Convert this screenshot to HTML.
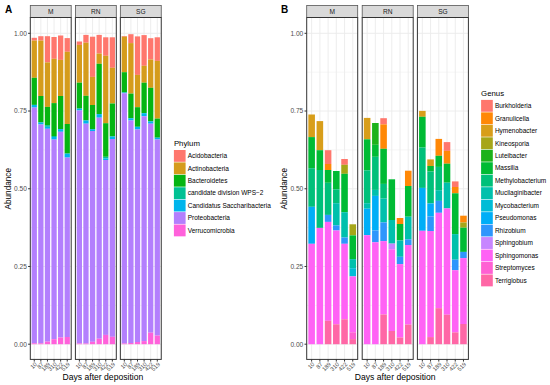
<!DOCTYPE html>
<html><head><meta charset="utf-8"><title>Abundance</title>
<style>
html,body{margin:0;padding:0;background:#FFFFFF;}
body{width:550px;height:385px;overflow:hidden;}
svg{display:block;font-family:"Liberation Sans",sans-serif;}
</style></head><body>
<svg width="550" height="385" viewBox="0 0 550 385">
<rect x="0" y="0" width="550" height="385" fill="#FFFFFF"/>
<rect x="30.30" y="17.50" width="40.90" height="341.90" fill="#FFFFFF"/>
<line x1="30.30" y1="305.34" x2="71.20" y2="305.34" stroke="#EBEBEB" stroke-width="0.5"/>
<line x1="30.30" y1="227.61" x2="71.20" y2="227.61" stroke="#EBEBEB" stroke-width="0.5"/>
<line x1="30.30" y1="149.89" x2="71.20" y2="149.89" stroke="#EBEBEB" stroke-width="0.5"/>
<line x1="30.30" y1="72.16" x2="71.20" y2="72.16" stroke="#EBEBEB" stroke-width="0.5"/>
<line x1="30.30" y1="344.20" x2="71.20" y2="344.20" stroke="#EBEBEB" stroke-width="0.9"/>
<line x1="30.30" y1="266.48" x2="71.20" y2="266.48" stroke="#EBEBEB" stroke-width="0.9"/>
<line x1="30.30" y1="188.75" x2="71.20" y2="188.75" stroke="#EBEBEB" stroke-width="0.9"/>
<line x1="30.30" y1="111.03" x2="71.20" y2="111.03" stroke="#EBEBEB" stroke-width="0.9"/>
<line x1="30.30" y1="33.30" x2="71.20" y2="33.30" stroke="#EBEBEB" stroke-width="0.9"/>
<line x1="34.26" y1="17.50" x2="34.26" y2="359.40" stroke="#EBEBEB" stroke-width="0.9"/>
<line x1="40.85" y1="17.50" x2="40.85" y2="359.40" stroke="#EBEBEB" stroke-width="0.9"/>
<line x1="47.45" y1="17.50" x2="47.45" y2="359.40" stroke="#EBEBEB" stroke-width="0.9"/>
<line x1="54.05" y1="17.50" x2="54.05" y2="359.40" stroke="#EBEBEB" stroke-width="0.9"/>
<line x1="60.65" y1="17.50" x2="60.65" y2="359.40" stroke="#EBEBEB" stroke-width="0.9"/>
<line x1="67.24" y1="17.50" x2="67.24" y2="359.40" stroke="#EBEBEB" stroke-width="0.9"/>
<rect x="31.62" y="37.80" width="5.28" height="2.80" fill="#FF776D"/>
<rect x="31.62" y="40.60" width="5.28" height="37.20" fill="#D59C1C"/>
<rect x="31.62" y="77.80" width="5.28" height="27.10" fill="#05B512"/>
<rect x="31.62" y="104.90" width="5.28" height="2.70" fill="#00B5EC"/>
<rect x="31.62" y="107.60" width="5.28" height="235.70" fill="#B37FFD"/>
<rect x="31.62" y="343.30" width="5.28" height="0.90" fill="#FF61DB"/>
<rect x="38.22" y="36.20" width="5.28" height="4.40" fill="#FF776D"/>
<rect x="38.22" y="40.60" width="5.28" height="55.40" fill="#D59C1C"/>
<rect x="38.22" y="96.00" width="5.28" height="26.40" fill="#05B512"/>
<rect x="38.22" y="122.40" width="5.28" height="2.10" fill="#00B5EC"/>
<rect x="38.22" y="124.50" width="5.28" height="218.80" fill="#B37FFD"/>
<rect x="38.22" y="343.30" width="5.28" height="0.90" fill="#FF61DB"/>
<rect x="44.81" y="36.20" width="5.28" height="26.20" fill="#FF776D"/>
<rect x="44.81" y="62.40" width="5.28" height="44.50" fill="#D59C1C"/>
<rect x="44.81" y="106.90" width="5.28" height="18.20" fill="#05B512"/>
<rect x="44.81" y="125.10" width="5.28" height="1.70" fill="#00C193"/>
<rect x="44.81" y="126.80" width="5.28" height="2.00" fill="#00B5EC"/>
<rect x="44.81" y="128.80" width="5.28" height="212.80" fill="#B37FFD"/>
<rect x="44.81" y="341.60" width="5.28" height="2.60" fill="#FF61DB"/>
<rect x="51.41" y="37.00" width="5.28" height="21.80" fill="#FF776D"/>
<rect x="51.41" y="58.80" width="5.28" height="44.30" fill="#D59C1C"/>
<rect x="51.41" y="103.10" width="5.28" height="32.90" fill="#05B512"/>
<rect x="51.41" y="136.00" width="5.28" height="1.00" fill="#00C193"/>
<rect x="51.41" y="137.00" width="5.28" height="2.60" fill="#00B5EC"/>
<rect x="51.41" y="139.60" width="5.28" height="199.60" fill="#B37FFD"/>
<rect x="51.41" y="339.20" width="5.28" height="5.00" fill="#FF61DB"/>
<rect x="58.01" y="35.50" width="5.28" height="24.40" fill="#FF776D"/>
<rect x="58.01" y="59.90" width="5.28" height="36.10" fill="#D59C1C"/>
<rect x="58.01" y="96.00" width="5.28" height="33.10" fill="#05B512"/>
<rect x="58.01" y="129.10" width="5.28" height="2.70" fill="#00B5EC"/>
<rect x="58.01" y="131.80" width="5.28" height="205.70" fill="#B37FFD"/>
<rect x="58.01" y="337.50" width="5.28" height="6.70" fill="#FF61DB"/>
<rect x="64.60" y="38.10" width="5.28" height="13.70" fill="#FF776D"/>
<rect x="64.60" y="51.80" width="5.28" height="72.20" fill="#D59C1C"/>
<rect x="64.60" y="124.00" width="5.28" height="29.60" fill="#05B512"/>
<rect x="64.60" y="153.60" width="5.28" height="4.00" fill="#00B5EC"/>
<rect x="64.60" y="157.60" width="5.28" height="179.40" fill="#B37FFD"/>
<rect x="64.60" y="337.00" width="5.28" height="7.20" fill="#FF61DB"/>
<rect x="30.30" y="17.50" width="40.90" height="341.90" fill="none" stroke="#333333" stroke-width="1"/>
<rect x="30.30" y="5.50" width="40.90" height="12.00" fill="#D9D9D9" stroke="#555555" stroke-width="0.8"/>
<line x1="30.30" y1="17.50" x2="71.20" y2="17.50" stroke="#333333" stroke-width="1.2"/>
<text x="50.75" y="14.20" font-size="6.6" fill="#1A1A1A" text-anchor="middle">M</text>
<line x1="34.26" y1="359.40" x2="34.26" y2="361.60" stroke="#333333" stroke-width="1"/>
<text transform="translate(34.56,361.90) rotate(-45)" font-size="5.8" fill="#4D4D4D" text-anchor="end" dominant-baseline="hanging">10</text>
<line x1="40.85" y1="359.40" x2="40.85" y2="361.60" stroke="#333333" stroke-width="1"/>
<text transform="translate(41.15,361.90) rotate(-45)" font-size="5.8" fill="#4D4D4D" text-anchor="end" dominant-baseline="hanging">87</text>
<line x1="47.45" y1="359.40" x2="47.45" y2="361.60" stroke="#333333" stroke-width="1"/>
<text transform="translate(47.75,361.90) rotate(-45)" font-size="5.8" fill="#4D4D4D" text-anchor="end" dominant-baseline="hanging">189</text>
<line x1="54.05" y1="359.40" x2="54.05" y2="361.60" stroke="#333333" stroke-width="1"/>
<text transform="translate(54.35,361.90) rotate(-45)" font-size="5.8" fill="#4D4D4D" text-anchor="end" dominant-baseline="hanging">310</text>
<line x1="60.65" y1="359.40" x2="60.65" y2="361.60" stroke="#333333" stroke-width="1"/>
<text transform="translate(60.95,361.90) rotate(-45)" font-size="5.8" fill="#4D4D4D" text-anchor="end" dominant-baseline="hanging">422</text>
<line x1="67.24" y1="359.40" x2="67.24" y2="361.60" stroke="#333333" stroke-width="1"/>
<text transform="translate(67.54,361.90) rotate(-45)" font-size="5.8" fill="#4D4D4D" text-anchor="end" dominant-baseline="hanging">519</text>
<rect x="75.40" y="17.50" width="40.90" height="341.90" fill="#FFFFFF"/>
<line x1="75.40" y1="305.34" x2="116.30" y2="305.34" stroke="#EBEBEB" stroke-width="0.5"/>
<line x1="75.40" y1="227.61" x2="116.30" y2="227.61" stroke="#EBEBEB" stroke-width="0.5"/>
<line x1="75.40" y1="149.89" x2="116.30" y2="149.89" stroke="#EBEBEB" stroke-width="0.5"/>
<line x1="75.40" y1="72.16" x2="116.30" y2="72.16" stroke="#EBEBEB" stroke-width="0.5"/>
<line x1="75.40" y1="344.20" x2="116.30" y2="344.20" stroke="#EBEBEB" stroke-width="0.9"/>
<line x1="75.40" y1="266.48" x2="116.30" y2="266.48" stroke="#EBEBEB" stroke-width="0.9"/>
<line x1="75.40" y1="188.75" x2="116.30" y2="188.75" stroke="#EBEBEB" stroke-width="0.9"/>
<line x1="75.40" y1="111.03" x2="116.30" y2="111.03" stroke="#EBEBEB" stroke-width="0.9"/>
<line x1="75.40" y1="33.30" x2="116.30" y2="33.30" stroke="#EBEBEB" stroke-width="0.9"/>
<line x1="79.36" y1="17.50" x2="79.36" y2="359.40" stroke="#EBEBEB" stroke-width="0.9"/>
<line x1="85.95" y1="17.50" x2="85.95" y2="359.40" stroke="#EBEBEB" stroke-width="0.9"/>
<line x1="92.55" y1="17.50" x2="92.55" y2="359.40" stroke="#EBEBEB" stroke-width="0.9"/>
<line x1="99.15" y1="17.50" x2="99.15" y2="359.40" stroke="#EBEBEB" stroke-width="0.9"/>
<line x1="105.75" y1="17.50" x2="105.75" y2="359.40" stroke="#EBEBEB" stroke-width="0.9"/>
<line x1="112.34" y1="17.50" x2="112.34" y2="359.40" stroke="#EBEBEB" stroke-width="0.9"/>
<rect x="76.72" y="41.50" width="5.28" height="3.40" fill="#FF776D"/>
<rect x="76.72" y="44.90" width="5.28" height="37.80" fill="#D59C1C"/>
<rect x="76.72" y="82.70" width="5.28" height="25.90" fill="#05B512"/>
<rect x="76.72" y="108.60" width="5.28" height="1.90" fill="#00B5EC"/>
<rect x="76.72" y="110.50" width="5.28" height="233.00" fill="#B37FFD"/>
<rect x="76.72" y="343.50" width="5.28" height="0.70" fill="#FF61DB"/>
<rect x="83.32" y="34.90" width="5.28" height="7.80" fill="#FF776D"/>
<rect x="83.32" y="42.70" width="5.28" height="53.10" fill="#D59C1C"/>
<rect x="83.32" y="95.80" width="5.28" height="24.70" fill="#05B512"/>
<rect x="83.32" y="120.50" width="5.28" height="3.20" fill="#00B5EC"/>
<rect x="83.32" y="123.70" width="5.28" height="219.80" fill="#B37FFD"/>
<rect x="83.32" y="343.50" width="5.28" height="0.70" fill="#FF61DB"/>
<rect x="89.91" y="36.70" width="5.28" height="40.20" fill="#FF776D"/>
<rect x="89.91" y="76.90" width="5.28" height="28.10" fill="#D59C1C"/>
<rect x="89.91" y="105.00" width="5.28" height="24.20" fill="#05B512"/>
<rect x="89.91" y="129.20" width="5.28" height="1.80" fill="#00B5EC"/>
<rect x="89.91" y="131.00" width="5.28" height="210.80" fill="#B37FFD"/>
<rect x="89.91" y="341.80" width="5.28" height="2.40" fill="#FF61DB"/>
<rect x="96.51" y="34.90" width="5.28" height="18.70" fill="#FF776D"/>
<rect x="96.51" y="53.60" width="5.28" height="10.20" fill="#D59C1C"/>
<rect x="96.51" y="63.80" width="5.28" height="50.30" fill="#05B512"/>
<rect x="96.51" y="114.10" width="5.28" height="3.60" fill="#00B5EC"/>
<rect x="96.51" y="117.70" width="5.28" height="221.00" fill="#B37FFD"/>
<rect x="96.51" y="338.70" width="5.28" height="5.50" fill="#FF61DB"/>
<rect x="103.11" y="37.30" width="5.28" height="18.50" fill="#FF776D"/>
<rect x="103.11" y="55.80" width="5.28" height="67.40" fill="#D59C1C"/>
<rect x="103.11" y="123.20" width="5.28" height="33.60" fill="#05B512"/>
<rect x="103.11" y="156.80" width="5.28" height="1.70" fill="#00C193"/>
<rect x="103.11" y="158.50" width="5.28" height="1.50" fill="#00B5EC"/>
<rect x="103.11" y="160.00" width="5.28" height="174.90" fill="#B37FFD"/>
<rect x="103.11" y="334.90" width="5.28" height="9.30" fill="#FF61DB"/>
<rect x="109.70" y="37.30" width="5.28" height="30.50" fill="#FF776D"/>
<rect x="109.70" y="67.80" width="5.28" height="35.70" fill="#D59C1C"/>
<rect x="109.70" y="103.50" width="5.28" height="33.00" fill="#05B512"/>
<rect x="109.70" y="136.50" width="5.28" height="2.50" fill="#00B5EC"/>
<rect x="109.70" y="139.00" width="5.28" height="197.80" fill="#B37FFD"/>
<rect x="109.70" y="336.80" width="5.28" height="7.40" fill="#FF61DB"/>
<rect x="75.40" y="17.50" width="40.90" height="341.90" fill="none" stroke="#333333" stroke-width="1"/>
<rect x="75.40" y="5.50" width="40.90" height="12.00" fill="#D9D9D9" stroke="#555555" stroke-width="0.8"/>
<line x1="75.40" y1="17.50" x2="116.30" y2="17.50" stroke="#333333" stroke-width="1.2"/>
<text x="95.85" y="14.20" font-size="6.6" fill="#1A1A1A" text-anchor="middle">RN</text>
<line x1="79.36" y1="359.40" x2="79.36" y2="361.60" stroke="#333333" stroke-width="1"/>
<text transform="translate(79.66,361.90) rotate(-45)" font-size="5.8" fill="#4D4D4D" text-anchor="end" dominant-baseline="hanging">10</text>
<line x1="85.95" y1="359.40" x2="85.95" y2="361.60" stroke="#333333" stroke-width="1"/>
<text transform="translate(86.25,361.90) rotate(-45)" font-size="5.8" fill="#4D4D4D" text-anchor="end" dominant-baseline="hanging">87</text>
<line x1="92.55" y1="359.40" x2="92.55" y2="361.60" stroke="#333333" stroke-width="1"/>
<text transform="translate(92.85,361.90) rotate(-45)" font-size="5.8" fill="#4D4D4D" text-anchor="end" dominant-baseline="hanging">189</text>
<line x1="99.15" y1="359.40" x2="99.15" y2="361.60" stroke="#333333" stroke-width="1"/>
<text transform="translate(99.45,361.90) rotate(-45)" font-size="5.8" fill="#4D4D4D" text-anchor="end" dominant-baseline="hanging">310</text>
<line x1="105.75" y1="359.40" x2="105.75" y2="361.60" stroke="#333333" stroke-width="1"/>
<text transform="translate(106.05,361.90) rotate(-45)" font-size="5.8" fill="#4D4D4D" text-anchor="end" dominant-baseline="hanging">422</text>
<line x1="112.34" y1="359.40" x2="112.34" y2="361.60" stroke="#333333" stroke-width="1"/>
<text transform="translate(112.64,361.90) rotate(-45)" font-size="5.8" fill="#4D4D4D" text-anchor="end" dominant-baseline="hanging">519</text>
<rect x="120.35" y="17.50" width="40.90" height="341.90" fill="#FFFFFF"/>
<line x1="120.35" y1="305.34" x2="161.25" y2="305.34" stroke="#EBEBEB" stroke-width="0.5"/>
<line x1="120.35" y1="227.61" x2="161.25" y2="227.61" stroke="#EBEBEB" stroke-width="0.5"/>
<line x1="120.35" y1="149.89" x2="161.25" y2="149.89" stroke="#EBEBEB" stroke-width="0.5"/>
<line x1="120.35" y1="72.16" x2="161.25" y2="72.16" stroke="#EBEBEB" stroke-width="0.5"/>
<line x1="120.35" y1="344.20" x2="161.25" y2="344.20" stroke="#EBEBEB" stroke-width="0.9"/>
<line x1="120.35" y1="266.48" x2="161.25" y2="266.48" stroke="#EBEBEB" stroke-width="0.9"/>
<line x1="120.35" y1="188.75" x2="161.25" y2="188.75" stroke="#EBEBEB" stroke-width="0.9"/>
<line x1="120.35" y1="111.03" x2="161.25" y2="111.03" stroke="#EBEBEB" stroke-width="0.9"/>
<line x1="120.35" y1="33.30" x2="161.25" y2="33.30" stroke="#EBEBEB" stroke-width="0.9"/>
<line x1="124.31" y1="17.50" x2="124.31" y2="359.40" stroke="#EBEBEB" stroke-width="0.9"/>
<line x1="130.90" y1="17.50" x2="130.90" y2="359.40" stroke="#EBEBEB" stroke-width="0.9"/>
<line x1="137.50" y1="17.50" x2="137.50" y2="359.40" stroke="#EBEBEB" stroke-width="0.9"/>
<line x1="144.10" y1="17.50" x2="144.10" y2="359.40" stroke="#EBEBEB" stroke-width="0.9"/>
<line x1="150.70" y1="17.50" x2="150.70" y2="359.40" stroke="#EBEBEB" stroke-width="0.9"/>
<line x1="157.29" y1="17.50" x2="157.29" y2="359.40" stroke="#EBEBEB" stroke-width="0.9"/>
<rect x="121.67" y="36.00" width="5.28" height="0.70" fill="#FF776D"/>
<rect x="121.67" y="36.70" width="5.28" height="35.50" fill="#D59C1C"/>
<rect x="121.67" y="72.20" width="5.28" height="20.30" fill="#05B512"/>
<rect x="121.67" y="92.50" width="5.28" height="0.80" fill="#00B5EC"/>
<rect x="121.67" y="93.30" width="5.28" height="250.20" fill="#B37FFD"/>
<rect x="121.67" y="343.50" width="5.28" height="0.70" fill="#FF61DB"/>
<rect x="128.27" y="34.20" width="5.28" height="8.90" fill="#FF776D"/>
<rect x="128.27" y="43.10" width="5.28" height="50.50" fill="#D59C1C"/>
<rect x="128.27" y="93.60" width="5.28" height="24.70" fill="#05B512"/>
<rect x="128.27" y="118.30" width="5.28" height="2.20" fill="#00B5EC"/>
<rect x="128.27" y="120.50" width="5.28" height="222.50" fill="#B37FFD"/>
<rect x="128.27" y="343.00" width="5.28" height="1.20" fill="#FF61DB"/>
<rect x="134.86" y="36.40" width="5.28" height="38.50" fill="#FF776D"/>
<rect x="134.86" y="74.90" width="5.28" height="32.30" fill="#D59C1C"/>
<rect x="134.86" y="107.20" width="5.28" height="19.60" fill="#05B512"/>
<rect x="134.86" y="126.80" width="5.28" height="2.70" fill="#00B5EC"/>
<rect x="134.86" y="129.50" width="5.28" height="212.50" fill="#B37FFD"/>
<rect x="134.86" y="342.00" width="5.28" height="2.20" fill="#FF61DB"/>
<rect x="141.46" y="35.10" width="5.28" height="30.70" fill="#FF776D"/>
<rect x="141.46" y="65.80" width="5.28" height="16.90" fill="#D59C1C"/>
<rect x="141.46" y="82.70" width="5.28" height="30.50" fill="#05B512"/>
<rect x="141.46" y="113.20" width="5.28" height="3.10" fill="#00B5EC"/>
<rect x="141.46" y="116.30" width="5.28" height="224.80" fill="#B37FFD"/>
<rect x="141.46" y="341.10" width="5.28" height="3.10" fill="#FF61DB"/>
<rect x="148.06" y="38.20" width="5.28" height="21.30" fill="#FF776D"/>
<rect x="148.06" y="59.50" width="5.28" height="28.30" fill="#D59C1C"/>
<rect x="148.06" y="87.80" width="5.28" height="33.60" fill="#05B512"/>
<rect x="148.06" y="121.40" width="5.28" height="2.30" fill="#00B5EC"/>
<rect x="148.06" y="123.70" width="5.28" height="209.00" fill="#B37FFD"/>
<rect x="148.06" y="332.70" width="5.28" height="11.50" fill="#FF61DB"/>
<rect x="154.65" y="37.30" width="5.28" height="23.60" fill="#FF776D"/>
<rect x="154.65" y="60.90" width="5.28" height="57.70" fill="#D59C1C"/>
<rect x="154.65" y="118.60" width="5.28" height="19.10" fill="#05B512"/>
<rect x="154.65" y="137.70" width="5.28" height="1.80" fill="#00B5EC"/>
<rect x="154.65" y="139.50" width="5.28" height="196.10" fill="#B37FFD"/>
<rect x="154.65" y="335.60" width="5.28" height="8.60" fill="#FF61DB"/>
<rect x="120.35" y="17.50" width="40.90" height="341.90" fill="none" stroke="#333333" stroke-width="1"/>
<rect x="120.35" y="5.50" width="40.90" height="12.00" fill="#D9D9D9" stroke="#555555" stroke-width="0.8"/>
<line x1="120.35" y1="17.50" x2="161.25" y2="17.50" stroke="#333333" stroke-width="1.2"/>
<text x="140.80" y="14.20" font-size="6.6" fill="#1A1A1A" text-anchor="middle">SG</text>
<line x1="124.31" y1="359.40" x2="124.31" y2="361.60" stroke="#333333" stroke-width="1"/>
<text transform="translate(124.61,361.90) rotate(-45)" font-size="5.8" fill="#4D4D4D" text-anchor="end" dominant-baseline="hanging">10</text>
<line x1="130.90" y1="359.40" x2="130.90" y2="361.60" stroke="#333333" stroke-width="1"/>
<text transform="translate(131.20,361.90) rotate(-45)" font-size="5.8" fill="#4D4D4D" text-anchor="end" dominant-baseline="hanging">87</text>
<line x1="137.50" y1="359.40" x2="137.50" y2="361.60" stroke="#333333" stroke-width="1"/>
<text transform="translate(137.80,361.90) rotate(-45)" font-size="5.8" fill="#4D4D4D" text-anchor="end" dominant-baseline="hanging">189</text>
<line x1="144.10" y1="359.40" x2="144.10" y2="361.60" stroke="#333333" stroke-width="1"/>
<text transform="translate(144.40,361.90) rotate(-45)" font-size="5.8" fill="#4D4D4D" text-anchor="end" dominant-baseline="hanging">310</text>
<line x1="150.70" y1="359.40" x2="150.70" y2="361.60" stroke="#333333" stroke-width="1"/>
<text transform="translate(151.00,361.90) rotate(-45)" font-size="5.8" fill="#4D4D4D" text-anchor="end" dominant-baseline="hanging">422</text>
<line x1="157.29" y1="359.40" x2="157.29" y2="361.60" stroke="#333333" stroke-width="1"/>
<text transform="translate(157.59,361.90) rotate(-45)" font-size="5.8" fill="#4D4D4D" text-anchor="end" dominant-baseline="hanging">519</text>
<line x1="28.10" y1="344.20" x2="30.30" y2="344.20" stroke="#333333" stroke-width="1"/>
<text x="26.90" y="346.55" font-size="6.6" fill="#4D4D4D" text-anchor="end">0.00</text>
<line x1="28.10" y1="266.48" x2="30.30" y2="266.48" stroke="#333333" stroke-width="1"/>
<text x="26.90" y="268.83" font-size="6.6" fill="#4D4D4D" text-anchor="end">0.25</text>
<line x1="28.10" y1="188.75" x2="30.30" y2="188.75" stroke="#333333" stroke-width="1"/>
<text x="26.90" y="191.10" font-size="6.6" fill="#4D4D4D" text-anchor="end">0.50</text>
<line x1="28.10" y1="111.03" x2="30.30" y2="111.03" stroke="#333333" stroke-width="1"/>
<text x="26.90" y="113.38" font-size="6.6" fill="#4D4D4D" text-anchor="end">0.75</text>
<line x1="28.10" y1="33.30" x2="30.30" y2="33.30" stroke="#333333" stroke-width="1"/>
<text x="26.90" y="35.65" font-size="6.6" fill="#4D4D4D" text-anchor="end">1.00</text>
<text x="5.0" y="13.2" font-size="10" font-weight="bold" fill="#000000">A</text>
<text transform="translate(10.5,188.75) rotate(-90)" font-size="8.2" fill="#000000" text-anchor="middle">Abundance</text>
<text x="102.90" y="379.50" font-size="8.6" fill="#000000" text-anchor="middle">Days after deposition</text>
<rect x="306.70" y="17.50" width="51.00" height="341.90" fill="#FFFFFF"/>
<line x1="306.70" y1="305.34" x2="357.70" y2="305.34" stroke="#EBEBEB" stroke-width="0.5"/>
<line x1="306.70" y1="227.61" x2="357.70" y2="227.61" stroke="#EBEBEB" stroke-width="0.5"/>
<line x1="306.70" y1="149.89" x2="357.70" y2="149.89" stroke="#EBEBEB" stroke-width="0.5"/>
<line x1="306.70" y1="72.16" x2="357.70" y2="72.16" stroke="#EBEBEB" stroke-width="0.5"/>
<line x1="306.70" y1="344.20" x2="357.70" y2="344.20" stroke="#EBEBEB" stroke-width="0.9"/>
<line x1="306.70" y1="266.48" x2="357.70" y2="266.48" stroke="#EBEBEB" stroke-width="0.9"/>
<line x1="306.70" y1="188.75" x2="357.70" y2="188.75" stroke="#EBEBEB" stroke-width="0.9"/>
<line x1="306.70" y1="111.03" x2="357.70" y2="111.03" stroke="#EBEBEB" stroke-width="0.9"/>
<line x1="306.70" y1="33.30" x2="357.70" y2="33.30" stroke="#EBEBEB" stroke-width="0.9"/>
<line x1="311.64" y1="17.50" x2="311.64" y2="359.40" stroke="#EBEBEB" stroke-width="0.9"/>
<line x1="319.86" y1="17.50" x2="319.86" y2="359.40" stroke="#EBEBEB" stroke-width="0.9"/>
<line x1="328.09" y1="17.50" x2="328.09" y2="359.40" stroke="#EBEBEB" stroke-width="0.9"/>
<line x1="336.31" y1="17.50" x2="336.31" y2="359.40" stroke="#EBEBEB" stroke-width="0.9"/>
<line x1="344.54" y1="17.50" x2="344.54" y2="359.40" stroke="#EBEBEB" stroke-width="0.9"/>
<line x1="352.76" y1="17.50" x2="352.76" y2="359.40" stroke="#EBEBEB" stroke-width="0.9"/>
<rect x="308.35" y="114.50" width="6.58" height="22.60" fill="#D89E1A"/>
<rect x="308.35" y="137.10" width="6.58" height="31.10" fill="#00BB34"/>
<rect x="308.35" y="168.20" width="6.58" height="38.60" fill="#00C07A"/>
<rect x="308.35" y="206.80" width="6.58" height="37.00" fill="#00AEF7"/>
<rect x="308.35" y="243.80" width="6.58" height="100.40" fill="#FF62F5"/>
<rect x="316.57" y="121.10" width="6.58" height="29.10" fill="#D89E1A"/>
<rect x="316.57" y="150.20" width="6.58" height="19.80" fill="#00BB34"/>
<rect x="316.57" y="170.00" width="6.58" height="57.90" fill="#00C07A"/>
<rect x="316.57" y="227.90" width="6.58" height="116.30" fill="#FF62F5"/>
<rect x="324.80" y="150.20" width="6.58" height="13.80" fill="#FF776D"/>
<rect x="324.80" y="164.00" width="6.58" height="6.00" fill="#FF8806"/>
<rect x="324.80" y="170.00" width="6.58" height="12.80" fill="#00BB34"/>
<rect x="324.80" y="182.80" width="6.58" height="32.10" fill="#00C07A"/>
<rect x="324.80" y="214.90" width="6.58" height="7.00" fill="#2E96FC"/>
<rect x="324.80" y="221.90" width="6.58" height="98.90" fill="#FF62F5"/>
<rect x="324.80" y="320.80" width="6.58" height="23.40" fill="#FF67A6"/>
<rect x="333.02" y="171.00" width="6.58" height="18.30" fill="#00BB34"/>
<rect x="333.02" y="189.30" width="6.58" height="13.90" fill="#00C07A"/>
<rect x="333.02" y="203.20" width="6.58" height="22.20" fill="#00C0AC"/>
<rect x="333.02" y="225.40" width="6.58" height="5.10" fill="#2E96FC"/>
<rect x="333.02" y="230.50" width="6.58" height="93.80" fill="#FF62F5"/>
<rect x="333.02" y="324.30" width="6.58" height="19.90" fill="#FF67A6"/>
<rect x="341.25" y="159.00" width="6.58" height="5.80" fill="#FF776D"/>
<rect x="341.25" y="164.80" width="6.58" height="9.00" fill="#A6A618"/>
<rect x="341.25" y="173.80" width="6.58" height="38.40" fill="#00BB34"/>
<rect x="341.25" y="212.20" width="6.58" height="25.30" fill="#00C0AC"/>
<rect x="341.25" y="237.50" width="6.58" height="6.30" fill="#2E96FC"/>
<rect x="341.25" y="243.80" width="6.58" height="75.50" fill="#FF62F5"/>
<rect x="341.25" y="319.30" width="6.58" height="24.90" fill="#FF67A6"/>
<rect x="349.47" y="224.30" width="6.58" height="11.10" fill="#A6A618"/>
<rect x="349.47" y="235.40" width="6.58" height="23.70" fill="#00BB34"/>
<rect x="349.47" y="259.10" width="6.58" height="9.10" fill="#00C0AC"/>
<rect x="349.47" y="268.20" width="6.58" height="8.20" fill="#00BCD6"/>
<rect x="349.47" y="276.40" width="6.58" height="55.90" fill="#FF62F5"/>
<rect x="349.47" y="332.30" width="6.58" height="6.80" fill="#FF60D3"/>
<rect x="349.47" y="339.10" width="6.58" height="5.10" fill="#FF67A6"/>
<rect x="306.70" y="17.50" width="51.00" height="341.90" fill="none" stroke="#333333" stroke-width="1"/>
<rect x="306.70" y="5.50" width="51.00" height="12.00" fill="#D9D9D9" stroke="#555555" stroke-width="0.8"/>
<line x1="306.70" y1="17.50" x2="357.70" y2="17.50" stroke="#333333" stroke-width="1.2"/>
<text x="332.20" y="14.20" font-size="6.6" fill="#1A1A1A" text-anchor="middle">M</text>
<line x1="311.64" y1="359.40" x2="311.64" y2="361.60" stroke="#333333" stroke-width="1"/>
<text transform="translate(311.94,361.90) rotate(-45)" font-size="5.8" fill="#4D4D4D" text-anchor="end" dominant-baseline="hanging">10</text>
<line x1="319.86" y1="359.40" x2="319.86" y2="361.60" stroke="#333333" stroke-width="1"/>
<text transform="translate(320.16,361.90) rotate(-45)" font-size="5.8" fill="#4D4D4D" text-anchor="end" dominant-baseline="hanging">87</text>
<line x1="328.09" y1="359.40" x2="328.09" y2="361.60" stroke="#333333" stroke-width="1"/>
<text transform="translate(328.39,361.90) rotate(-45)" font-size="5.8" fill="#4D4D4D" text-anchor="end" dominant-baseline="hanging">189</text>
<line x1="336.31" y1="359.40" x2="336.31" y2="361.60" stroke="#333333" stroke-width="1"/>
<text transform="translate(336.61,361.90) rotate(-45)" font-size="5.8" fill="#4D4D4D" text-anchor="end" dominant-baseline="hanging">310</text>
<line x1="344.54" y1="359.40" x2="344.54" y2="361.60" stroke="#333333" stroke-width="1"/>
<text transform="translate(344.84,361.90) rotate(-45)" font-size="5.8" fill="#4D4D4D" text-anchor="end" dominant-baseline="hanging">422</text>
<line x1="352.76" y1="359.40" x2="352.76" y2="361.60" stroke="#333333" stroke-width="1"/>
<text transform="translate(353.06,361.90) rotate(-45)" font-size="5.8" fill="#4D4D4D" text-anchor="end" dominant-baseline="hanging">519</text>
<rect x="362.20" y="17.50" width="51.00" height="341.90" fill="#FFFFFF"/>
<line x1="362.20" y1="305.34" x2="413.20" y2="305.34" stroke="#EBEBEB" stroke-width="0.5"/>
<line x1="362.20" y1="227.61" x2="413.20" y2="227.61" stroke="#EBEBEB" stroke-width="0.5"/>
<line x1="362.20" y1="149.89" x2="413.20" y2="149.89" stroke="#EBEBEB" stroke-width="0.5"/>
<line x1="362.20" y1="72.16" x2="413.20" y2="72.16" stroke="#EBEBEB" stroke-width="0.5"/>
<line x1="362.20" y1="344.20" x2="413.20" y2="344.20" stroke="#EBEBEB" stroke-width="0.9"/>
<line x1="362.20" y1="266.48" x2="413.20" y2="266.48" stroke="#EBEBEB" stroke-width="0.9"/>
<line x1="362.20" y1="188.75" x2="413.20" y2="188.75" stroke="#EBEBEB" stroke-width="0.9"/>
<line x1="362.20" y1="111.03" x2="413.20" y2="111.03" stroke="#EBEBEB" stroke-width="0.9"/>
<line x1="362.20" y1="33.30" x2="413.20" y2="33.30" stroke="#EBEBEB" stroke-width="0.9"/>
<line x1="367.14" y1="17.50" x2="367.14" y2="359.40" stroke="#EBEBEB" stroke-width="0.9"/>
<line x1="375.36" y1="17.50" x2="375.36" y2="359.40" stroke="#EBEBEB" stroke-width="0.9"/>
<line x1="383.59" y1="17.50" x2="383.59" y2="359.40" stroke="#EBEBEB" stroke-width="0.9"/>
<line x1="391.81" y1="17.50" x2="391.81" y2="359.40" stroke="#EBEBEB" stroke-width="0.9"/>
<line x1="400.04" y1="17.50" x2="400.04" y2="359.40" stroke="#EBEBEB" stroke-width="0.9"/>
<line x1="408.26" y1="17.50" x2="408.26" y2="359.40" stroke="#EBEBEB" stroke-width="0.9"/>
<rect x="363.85" y="117.90" width="6.58" height="21.40" fill="#D89E1A"/>
<rect x="363.85" y="139.30" width="6.58" height="31.00" fill="#00BB34"/>
<rect x="363.85" y="170.30" width="6.58" height="32.90" fill="#00C07A"/>
<rect x="363.85" y="203.20" width="6.58" height="5.50" fill="#00C0AC"/>
<rect x="363.85" y="208.70" width="6.58" height="26.50" fill="#00AEF7"/>
<rect x="363.85" y="235.20" width="6.58" height="109.00" fill="#FF62F5"/>
<rect x="372.07" y="123.00" width="6.58" height="21.80" fill="#1CB21A"/>
<rect x="372.07" y="144.80" width="6.58" height="12.00" fill="#00BB34"/>
<rect x="372.07" y="156.80" width="6.58" height="33.10" fill="#00C07A"/>
<rect x="372.07" y="189.90" width="6.58" height="6.00" fill="#00C0AC"/>
<rect x="372.07" y="195.90" width="6.58" height="34.60" fill="#00AEF7"/>
<rect x="372.07" y="230.50" width="6.58" height="11.80" fill="#2E96FC"/>
<rect x="372.07" y="242.30" width="6.58" height="101.90" fill="#FF62F5"/>
<rect x="380.30" y="118.20" width="6.58" height="6.20" fill="#FF776D"/>
<rect x="380.30" y="124.40" width="6.58" height="24.40" fill="#FF8806"/>
<rect x="380.30" y="148.80" width="6.58" height="35.10" fill="#00BB34"/>
<rect x="380.30" y="183.90" width="6.58" height="14.70" fill="#00C07A"/>
<rect x="380.30" y="198.60" width="6.58" height="23.80" fill="#00C0AC"/>
<rect x="380.30" y="222.40" width="6.58" height="18.70" fill="#2E96FC"/>
<rect x="380.30" y="241.10" width="6.58" height="73.40" fill="#FF62F5"/>
<rect x="380.30" y="314.50" width="6.58" height="29.70" fill="#FF67A6"/>
<rect x="388.52" y="179.30" width="6.58" height="40.70" fill="#00BB34"/>
<rect x="388.52" y="220.00" width="6.58" height="23.60" fill="#00C0AC"/>
<rect x="388.52" y="243.60" width="6.58" height="5.70" fill="#C786FF"/>
<rect x="388.52" y="249.30" width="6.58" height="81.70" fill="#FF62F5"/>
<rect x="388.52" y="331.00" width="6.58" height="13.20" fill="#FF67A6"/>
<rect x="396.75" y="218.00" width="6.58" height="6.00" fill="#FF8806"/>
<rect x="396.75" y="224.00" width="6.58" height="16.50" fill="#00BB34"/>
<rect x="396.75" y="240.50" width="6.58" height="16.30" fill="#00C0AC"/>
<rect x="396.75" y="256.80" width="6.58" height="7.30" fill="#2E96FC"/>
<rect x="396.75" y="264.10" width="6.58" height="73.40" fill="#FF62F5"/>
<rect x="396.75" y="337.50" width="6.58" height="6.70" fill="#FF67A6"/>
<rect x="404.97" y="170.70" width="6.58" height="15.30" fill="#FF8806"/>
<rect x="404.97" y="186.00" width="6.58" height="30.70" fill="#00BB34"/>
<rect x="404.97" y="216.70" width="6.58" height="22.60" fill="#00C0AC"/>
<rect x="404.97" y="239.30" width="6.58" height="5.70" fill="#2E96FC"/>
<rect x="404.97" y="245.00" width="6.58" height="79.60" fill="#FF62F5"/>
<rect x="404.97" y="324.60" width="6.58" height="19.60" fill="#FF67A6"/>
<rect x="362.20" y="17.50" width="51.00" height="341.90" fill="none" stroke="#333333" stroke-width="1"/>
<rect x="362.20" y="5.50" width="51.00" height="12.00" fill="#D9D9D9" stroke="#555555" stroke-width="0.8"/>
<line x1="362.20" y1="17.50" x2="413.20" y2="17.50" stroke="#333333" stroke-width="1.2"/>
<text x="387.70" y="14.20" font-size="6.6" fill="#1A1A1A" text-anchor="middle">RN</text>
<line x1="367.14" y1="359.40" x2="367.14" y2="361.60" stroke="#333333" stroke-width="1"/>
<text transform="translate(367.44,361.90) rotate(-45)" font-size="5.8" fill="#4D4D4D" text-anchor="end" dominant-baseline="hanging">10</text>
<line x1="375.36" y1="359.40" x2="375.36" y2="361.60" stroke="#333333" stroke-width="1"/>
<text transform="translate(375.66,361.90) rotate(-45)" font-size="5.8" fill="#4D4D4D" text-anchor="end" dominant-baseline="hanging">87</text>
<line x1="383.59" y1="359.40" x2="383.59" y2="361.60" stroke="#333333" stroke-width="1"/>
<text transform="translate(383.89,361.90) rotate(-45)" font-size="5.8" fill="#4D4D4D" text-anchor="end" dominant-baseline="hanging">189</text>
<line x1="391.81" y1="359.40" x2="391.81" y2="361.60" stroke="#333333" stroke-width="1"/>
<text transform="translate(392.11,361.90) rotate(-45)" font-size="5.8" fill="#4D4D4D" text-anchor="end" dominant-baseline="hanging">310</text>
<line x1="400.04" y1="359.40" x2="400.04" y2="361.60" stroke="#333333" stroke-width="1"/>
<text transform="translate(400.34,361.90) rotate(-45)" font-size="5.8" fill="#4D4D4D" text-anchor="end" dominant-baseline="hanging">422</text>
<line x1="408.26" y1="359.40" x2="408.26" y2="361.60" stroke="#333333" stroke-width="1"/>
<text transform="translate(408.56,361.90) rotate(-45)" font-size="5.8" fill="#4D4D4D" text-anchor="end" dominant-baseline="hanging">519</text>
<rect x="417.40" y="17.50" width="51.00" height="341.90" fill="#FFFFFF"/>
<line x1="417.40" y1="305.34" x2="468.40" y2="305.34" stroke="#EBEBEB" stroke-width="0.5"/>
<line x1="417.40" y1="227.61" x2="468.40" y2="227.61" stroke="#EBEBEB" stroke-width="0.5"/>
<line x1="417.40" y1="149.89" x2="468.40" y2="149.89" stroke="#EBEBEB" stroke-width="0.5"/>
<line x1="417.40" y1="72.16" x2="468.40" y2="72.16" stroke="#EBEBEB" stroke-width="0.5"/>
<line x1="417.40" y1="344.20" x2="468.40" y2="344.20" stroke="#EBEBEB" stroke-width="0.9"/>
<line x1="417.40" y1="266.48" x2="468.40" y2="266.48" stroke="#EBEBEB" stroke-width="0.9"/>
<line x1="417.40" y1="188.75" x2="468.40" y2="188.75" stroke="#EBEBEB" stroke-width="0.9"/>
<line x1="417.40" y1="111.03" x2="468.40" y2="111.03" stroke="#EBEBEB" stroke-width="0.9"/>
<line x1="417.40" y1="33.30" x2="468.40" y2="33.30" stroke="#EBEBEB" stroke-width="0.9"/>
<line x1="422.34" y1="17.50" x2="422.34" y2="359.40" stroke="#EBEBEB" stroke-width="0.9"/>
<line x1="430.56" y1="17.50" x2="430.56" y2="359.40" stroke="#EBEBEB" stroke-width="0.9"/>
<line x1="438.79" y1="17.50" x2="438.79" y2="359.40" stroke="#EBEBEB" stroke-width="0.9"/>
<line x1="447.01" y1="17.50" x2="447.01" y2="359.40" stroke="#EBEBEB" stroke-width="0.9"/>
<line x1="455.24" y1="17.50" x2="455.24" y2="359.40" stroke="#EBEBEB" stroke-width="0.9"/>
<line x1="463.46" y1="17.50" x2="463.46" y2="359.40" stroke="#EBEBEB" stroke-width="0.9"/>
<rect x="419.05" y="110.90" width="6.58" height="5.90" fill="#D89E1A"/>
<rect x="419.05" y="116.80" width="6.58" height="30.70" fill="#00BB34"/>
<rect x="419.05" y="147.50" width="6.58" height="40.40" fill="#00C07A"/>
<rect x="419.05" y="187.90" width="6.58" height="42.90" fill="#00AEF7"/>
<rect x="419.05" y="230.80" width="6.58" height="113.40" fill="#FF62F5"/>
<rect x="427.27" y="159.40" width="6.58" height="6.60" fill="#D89E1A"/>
<rect x="427.27" y="166.00" width="6.58" height="5.50" fill="#00BB34"/>
<rect x="427.27" y="171.50" width="6.58" height="31.90" fill="#00C07A"/>
<rect x="427.27" y="203.40" width="6.58" height="13.10" fill="#00AEF7"/>
<rect x="427.27" y="216.50" width="6.58" height="14.50" fill="#2E96FC"/>
<rect x="427.27" y="231.00" width="6.58" height="106.10" fill="#FF62F5"/>
<rect x="427.27" y="337.10" width="6.58" height="7.10" fill="#FF67A6"/>
<rect x="435.50" y="138.90" width="6.58" height="16.90" fill="#FF8806"/>
<rect x="435.50" y="155.80" width="6.58" height="11.10" fill="#00BB34"/>
<rect x="435.50" y="166.90" width="6.58" height="23.30" fill="#00C07A"/>
<rect x="435.50" y="190.20" width="6.58" height="10.70" fill="#00C0AC"/>
<rect x="435.50" y="200.90" width="6.58" height="11.90" fill="#2E96FC"/>
<rect x="435.50" y="212.80" width="6.58" height="95.40" fill="#FF62F5"/>
<rect x="435.50" y="308.20" width="6.58" height="36.00" fill="#FF67A6"/>
<rect x="443.72" y="142.10" width="6.58" height="8.80" fill="#FF776D"/>
<rect x="443.72" y="150.90" width="6.58" height="12.80" fill="#FF8806"/>
<rect x="443.72" y="163.70" width="6.58" height="19.00" fill="#00BB34"/>
<rect x="443.72" y="182.70" width="6.58" height="25.70" fill="#00C0AC"/>
<rect x="443.72" y="208.40" width="6.58" height="106.30" fill="#FF62F5"/>
<rect x="443.72" y="314.70" width="6.58" height="29.50" fill="#FF67A6"/>
<rect x="451.95" y="181.40" width="6.58" height="5.60" fill="#FF776D"/>
<rect x="451.95" y="187.00" width="6.58" height="6.30" fill="#FF8806"/>
<rect x="451.95" y="193.30" width="6.58" height="40.80" fill="#00BB34"/>
<rect x="451.95" y="234.10" width="6.58" height="25.60" fill="#00C0AC"/>
<rect x="451.95" y="259.70" width="6.58" height="10.50" fill="#2E96FC"/>
<rect x="451.95" y="270.20" width="6.58" height="62.20" fill="#FF62F5"/>
<rect x="451.95" y="332.40" width="6.58" height="11.80" fill="#FF67A6"/>
<rect x="460.17" y="215.70" width="6.58" height="6.80" fill="#FF8806"/>
<rect x="460.17" y="222.50" width="6.58" height="5.20" fill="#A6A618"/>
<rect x="460.17" y="227.70" width="6.58" height="24.20" fill="#00BB34"/>
<rect x="460.17" y="251.90" width="6.58" height="6.20" fill="#2E96FC"/>
<rect x="460.17" y="258.10" width="6.58" height="65.90" fill="#FF62F5"/>
<rect x="460.17" y="324.00" width="6.58" height="20.20" fill="#FF67A6"/>
<rect x="417.40" y="17.50" width="51.00" height="341.90" fill="none" stroke="#333333" stroke-width="1"/>
<rect x="417.40" y="5.50" width="51.00" height="12.00" fill="#D9D9D9" stroke="#555555" stroke-width="0.8"/>
<line x1="417.40" y1="17.50" x2="468.40" y2="17.50" stroke="#333333" stroke-width="1.2"/>
<text x="442.90" y="14.20" font-size="6.6" fill="#1A1A1A" text-anchor="middle">SG</text>
<line x1="422.34" y1="359.40" x2="422.34" y2="361.60" stroke="#333333" stroke-width="1"/>
<text transform="translate(422.64,361.90) rotate(-45)" font-size="5.8" fill="#4D4D4D" text-anchor="end" dominant-baseline="hanging">10</text>
<line x1="430.56" y1="359.40" x2="430.56" y2="361.60" stroke="#333333" stroke-width="1"/>
<text transform="translate(430.86,361.90) rotate(-45)" font-size="5.8" fill="#4D4D4D" text-anchor="end" dominant-baseline="hanging">87</text>
<line x1="438.79" y1="359.40" x2="438.79" y2="361.60" stroke="#333333" stroke-width="1"/>
<text transform="translate(439.09,361.90) rotate(-45)" font-size="5.8" fill="#4D4D4D" text-anchor="end" dominant-baseline="hanging">189</text>
<line x1="447.01" y1="359.40" x2="447.01" y2="361.60" stroke="#333333" stroke-width="1"/>
<text transform="translate(447.31,361.90) rotate(-45)" font-size="5.8" fill="#4D4D4D" text-anchor="end" dominant-baseline="hanging">310</text>
<line x1="455.24" y1="359.40" x2="455.24" y2="361.60" stroke="#333333" stroke-width="1"/>
<text transform="translate(455.54,361.90) rotate(-45)" font-size="5.8" fill="#4D4D4D" text-anchor="end" dominant-baseline="hanging">422</text>
<line x1="463.46" y1="359.40" x2="463.46" y2="361.60" stroke="#333333" stroke-width="1"/>
<text transform="translate(463.76,361.90) rotate(-45)" font-size="5.8" fill="#4D4D4D" text-anchor="end" dominant-baseline="hanging">519</text>
<line x1="304.50" y1="344.20" x2="306.70" y2="344.20" stroke="#333333" stroke-width="1"/>
<text x="303.30" y="346.55" font-size="6.6" fill="#4D4D4D" text-anchor="end">0.00</text>
<line x1="304.50" y1="266.48" x2="306.70" y2="266.48" stroke="#333333" stroke-width="1"/>
<text x="303.30" y="268.83" font-size="6.6" fill="#4D4D4D" text-anchor="end">0.25</text>
<line x1="304.50" y1="188.75" x2="306.70" y2="188.75" stroke="#333333" stroke-width="1"/>
<text x="303.30" y="191.10" font-size="6.6" fill="#4D4D4D" text-anchor="end">0.50</text>
<line x1="304.50" y1="111.03" x2="306.70" y2="111.03" stroke="#333333" stroke-width="1"/>
<text x="303.30" y="113.38" font-size="6.6" fill="#4D4D4D" text-anchor="end">0.75</text>
<line x1="304.50" y1="33.30" x2="306.70" y2="33.30" stroke="#333333" stroke-width="1"/>
<text x="303.30" y="35.65" font-size="6.6" fill="#4D4D4D" text-anchor="end">1.00</text>
<text x="281.0" y="13.2" font-size="10" font-weight="bold" fill="#000000">B</text>
<text transform="translate(286.5,188.75) rotate(-90)" font-size="8.2" fill="#000000" text-anchor="middle">Abundance</text>
<text x="395.20" y="379.50" font-size="8.6" fill="#000000" text-anchor="middle">Days after deposition</text>
<text x="173.90" y="146.20" font-size="7.8" fill="#000000" text-anchor="start">Phylum</text>
<rect x="173.90" y="150.00" width="11.70" height="11.82" fill="#FF776D"/>
<text x="187.70" y="158.21" font-size="6.5" fill="#000000" text-anchor="start">Acidobacteria</text>
<rect x="173.90" y="162.42" width="11.70" height="11.82" fill="#D59C1C"/>
<text x="187.70" y="170.63" font-size="6.5" fill="#000000" text-anchor="start">Actinobacteria</text>
<rect x="173.90" y="174.84" width="11.70" height="11.82" fill="#05B512"/>
<text x="187.70" y="183.05" font-size="6.5" fill="#000000" text-anchor="start">Bacteroidetes</text>
<rect x="173.90" y="187.26" width="11.70" height="11.82" fill="#00C193"/>
<text x="187.70" y="195.47" font-size="6.5" fill="#000000" text-anchor="start">candidate division WPS−2</text>
<rect x="173.90" y="199.68" width="11.70" height="11.82" fill="#00B5EC"/>
<text x="187.70" y="207.89" font-size="6.5" fill="#000000" text-anchor="start">Candidatus Saccharibacteria</text>
<rect x="173.90" y="212.10" width="11.70" height="11.82" fill="#B37FFD"/>
<text x="187.70" y="220.31" font-size="6.5" fill="#000000" text-anchor="start">Proteobacteria</text>
<rect x="173.90" y="224.52" width="11.70" height="11.82" fill="#FF61DB"/>
<text x="187.70" y="232.73" font-size="6.5" fill="#000000" text-anchor="start">Verrucomicrobia</text>
<text x="481.10" y="96.20" font-size="7.8" fill="#000000" text-anchor="start">Genus</text>
<rect x="481.10" y="99.90" width="11.70" height="11.87" fill="#FF776D"/>
<text x="494.90" y="108.14" font-size="6.5" fill="#000000" text-anchor="start">Burkholderia</text>
<rect x="481.10" y="112.37" width="11.70" height="11.87" fill="#FF8806"/>
<text x="494.90" y="120.61" font-size="6.5" fill="#000000" text-anchor="start">Granulicella</text>
<rect x="481.10" y="124.84" width="11.70" height="11.87" fill="#D89E1A"/>
<text x="494.90" y="133.08" font-size="6.5" fill="#000000" text-anchor="start">Hymenobacter</text>
<rect x="481.10" y="137.31" width="11.70" height="11.87" fill="#A6A618"/>
<text x="494.90" y="145.55" font-size="6.5" fill="#000000" text-anchor="start">Kineosporia</text>
<rect x="481.10" y="149.78" width="11.70" height="11.87" fill="#1CB21A"/>
<text x="494.90" y="158.02" font-size="6.5" fill="#000000" text-anchor="start">Luteibacter</text>
<rect x="481.10" y="162.25" width="11.70" height="11.87" fill="#00BB34"/>
<text x="494.90" y="170.49" font-size="6.5" fill="#000000" text-anchor="start">Massilia</text>
<rect x="481.10" y="174.72" width="11.70" height="11.87" fill="#00C07A"/>
<text x="494.90" y="182.96" font-size="6.5" fill="#000000" text-anchor="start">Methylobacterium</text>
<rect x="481.10" y="187.19" width="11.70" height="11.87" fill="#00C0AC"/>
<text x="494.90" y="195.43" font-size="6.5" fill="#000000" text-anchor="start">Mucilaginibacter</text>
<rect x="481.10" y="199.66" width="11.70" height="11.87" fill="#00BCD6"/>
<text x="494.90" y="207.90" font-size="6.5" fill="#000000" text-anchor="start">Mycobacterium</text>
<rect x="481.10" y="212.13" width="11.70" height="11.87" fill="#00AEF7"/>
<text x="494.90" y="220.37" font-size="6.5" fill="#000000" text-anchor="start">Pseudomonas</text>
<rect x="481.10" y="224.60" width="11.70" height="11.87" fill="#2E96FC"/>
<text x="494.90" y="232.84" font-size="6.5" fill="#000000" text-anchor="start">Rhizobium</text>
<rect x="481.10" y="237.07" width="11.70" height="11.87" fill="#C786FF"/>
<text x="494.90" y="245.31" font-size="6.5" fill="#000000" text-anchor="start">Sphingobium</text>
<rect x="481.10" y="249.54" width="11.70" height="11.87" fill="#FF62F5"/>
<text x="494.90" y="257.78" font-size="6.5" fill="#000000" text-anchor="start">Sphingomonas</text>
<rect x="481.10" y="262.01" width="11.70" height="11.87" fill="#FF60D3"/>
<text x="494.90" y="270.25" font-size="6.5" fill="#000000" text-anchor="start">Streptomyces</text>
<rect x="481.10" y="274.48" width="11.70" height="11.87" fill="#FF67A6"/>
<text x="494.90" y="282.72" font-size="6.5" fill="#000000" text-anchor="start">Terriglobus</text>
</svg>
</body></html>
